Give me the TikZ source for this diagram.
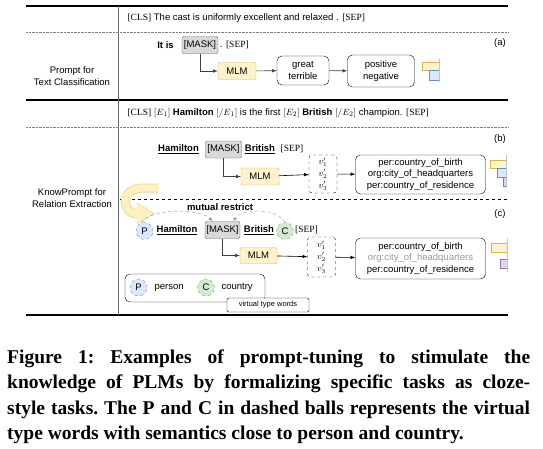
\documentclass[tikz,border=0pt]{standalone}
\usepackage{fontspec}
\setmainfont{Liberation Sans}
\newfontfamily\serifface{Liberation Serif}
\newfontfamily\captionface{Liberation Serif}
\usepackage{tikz}
\usetikzlibrary{calc}

\definecolor{mlmfill}{HTML}{FFF2CC}
\definecolor{mlmline}{HTML}{D6B656}
\definecolor{bluefill}{HTML}{DAE8FC}
\definecolor{blueline}{HTML}{6C8EBF}
\definecolor{greenfill}{HTML}{D5E8D4}
\definecolor{greenline}{HTML}{82B366}
\definecolor{purplefill}{HTML}{E1D5E7}
\definecolor{purpleline}{HTML}{9673A6}
\definecolor{arrowfill}{HTML}{FFF0C2}
\definecolor{arrowline}{HTML}{E8D48E}

\tikzset{
  maskbox/.style={draw=black!60, fill=black!15, rounded corners=2pt, minimum width=36pt, minimum height=17pt, inner sep=1pt},
  mlmbox/.style={draw=mlmline, fill=mlmfill, rounded corners=2pt, minimum width=38pt, minimum height=17pt, inner sep=1pt},
  wordbox/.style={draw, rounded corners=5pt, align=center, inner sep=2pt},
  vbox/.style={draw, dashed, rounded corners=3pt, align=center, inner sep=1pt, font=\fontsize{9}{11.8}\selectfont},
  ball/.style={circle, dashed, minimum size=17pt, inner sep=0pt},
  link/.style={-latex, line width=0.6pt},
}

\begin{document}
\begin{tikzpicture}[x=1pt, y=-1pt, font=\fontsize{9.5}{11.5}\selectfont]
    \useasboundingbox (0,0) rectangle (543,448);

    % table rules
    \draw[line width=1.1pt] (26,6) -- (508,6);
    \draw[line width=1.1pt] (26,100) -- (508,100);
    \draw[line width=1.1pt] (26,315) -- (508,315);
    \draw[line width=0.9pt, black!60] (118,6) -- (118,315);
    \draw[densely dotted, black!50] (26,32) -- (508,32);
    \draw[densely dotted, black!50] (26,127) -- (508,127);
    \draw[dashed] (120,199) -- (508,199);

    \node[align=center] (task1) at (72,76) {Prompt for\\Text Classification};
    \node[align=center] (task2) at (72,198) {KnowPrompt for\\Relation Extraction};

    % (a) text classification
    \node[anchor=west] (sent1) at (124,18) {{\serifface[CLS]} The cast is uniformly excellent and relaxed . {\serifface[SEP]}};
    \node (taga) at (500,43) {(a)};
    \node (itis) at (165.5,45) {\textbf{It is}};
    \node[maskbox] (mask1) at (200,45) {[MASK]};
    \node[anchor=west, inner sep=1.5pt] (sep1) at (mask1.east) {. {\serifface[SEP]}};
    \node[mlmbox] (mlm1) at (237,71) {MLM};
    \node[wordbox, minimum width=52pt, minimum height=29pt] (word1) at (303,70.5) {great\\terrible};
    \node[wordbox, minimum width=67pt, minimum height=32pt] (lab1) at (381,71) {positive\\negative};
    \draw[link, black!75] (mask1.south) |- (mlm1.west);
    \draw[link, black!75] (mlm1) -- (word1);
    \draw[link, black!75] (word1) -- (lab1);

    \filldraw[fill=mlmfill, draw=mlmline] (422,62) rectangle (439,70);
    \filldraw[fill=bluefill, draw=blueline] (429,70) rectangle (439,80);
    \draw[blueline!50, line width=0.8pt] (439,59) -- (439,82);

    % (b) relation extraction
    \node[anchor=west] (sent2) at (124,113) {{\serifface[CLS]} $[E_1]$ \textbf{Hamilton} $[/E_1]$ is the first $[E_2]$ \textbf{British} $[/E_2]$ champion. {\serifface[SEP]}};
    \node (tagb) at (500,139) {(b)};
    \node (ham2) at (178.5,149) {\underline{\textbf{Hamilton}}};
    \node[maskbox] (mask2) at (223.5,149.5) {[MASK]};
    \node (brit2) at (260,149) {\underline{\textbf{British}}};
    \node (sep2) at (292,149) {\serifface[SEP]};
    \node[mlmbox] (mlm2) at (260,176.5) {MLM};
    \node[vbox, minimum width=28pt, minimum height=38pt] (verb2) at (323,174) {$v'_1$\\$v'_2$\\$v'_3$};
    \node[wordbox, minimum width=130pt, minimum height=39pt] (rel2) at (420.5,174.5) {per:country\_of\_birth\\org:city\_of\_headquarters\\per:country\_of\_residence};
    \draw[link, black!75] (mask2.south) |- (mlm2.west);
    \draw[link] (mlm2) -- (verb2);
    \draw[link] (verb2) -- (rel2);

    \filldraw[fill=mlmfill, draw=mlmline] (490,160) rectangle (506.5,168);
    \filldraw[fill=bluefill, draw=blueline] (497,168) rectangle (506.5,177.5);
    \filldraw[fill=purplefill, draw=purpleline] (503,177.5) rectangle (506.5,186.5);
    \draw[blueline!50, line width=0.8pt] (506.5,155) -- (506.5,188);

    % (c) knowprompt
    \draw[line width=9pt, arrowline] (158,188) -- (143,188) .. controls (120,188) and (120,214) .. (139,214);
    \filldraw[fill=arrowfill, draw=arrowline] (137,203) -- (154,213.5) -- (137,224) -- cycle;
    \draw[line width=7.4pt, arrowfill] (158.6,188) -- (143,188) .. controls (120,188) and (120,214) .. (139,214);

    \node (tagc) at (500,214) {(c)};
    \node (restrict) at (220,207) {\textbf{mutual restrict}};
    \node[ball, fill=bluefill, draw=blueline] (p3) at (144.5,231) {P};
    \node (ham3) at (177,230) {\underline{\textbf{Hamilton}}};
    \node[maskbox, minimum width=35pt] (mask3) at (222.5,230) {[MASK]};
    \node (brit3) at (259,230) {\underline{\textbf{British}}};
    \node[ball, fill=greenfill, draw=greenline] (c3) at (285,231) {C};
    \node (sep3) at (306.5,230) {\serifface[SEP]};
    \draw[dashed, blueline, -latex] (p3.110) .. controls (150,208) and (200,208) .. ($(mask3.north)+(-10,0)$);
    \draw[dashed, greenline, -latex] (c3.north) .. controls (278,208) and (242,208) .. ($(mask3.north)+(11,0)$);
    \node[mlmbox, minimum width=37pt, minimum height=16pt] (mlm3) at (258.5,255.5) {MLM};
    \node[vbox, minimum width=28pt, minimum height=40pt] (verb3) at (321.5,257) {$v'_1$\\$v'_2$\\$v'_3$};
    \node[wordbox, minimum width=130pt, minimum height=41pt] (rel3) at (420.5,258.5) {per:country\_of\_birth\\{\color{black!40}org:city\_of\_headquarters}\\per:country\_of\_residence};
    \draw[link, black!75] (mask3.south) |- (mlm3.west);
    \draw[link] (mlm3) -- (verb3);
    \draw[link] (verb3) -- (rel3);

    \filldraw[fill=mlmfill, draw=mlmline] (491,243) rectangle (507.5,252);
    \filldraw[fill=purplefill, draw=purpleline] (500,259) rectangle (507.5,268);
    \draw[blueline!50, line width=0.8pt] (507.5,238) -- (507.5,272);

    % legend
    \node[draw, rounded corners=5pt, minimum width=140pt, minimum height=28pt] (legend) at (195,288) {};
    \node[ball, fill=bluefill, draw=blueline] (pl) at (138.5,287.5) {P};
    \node[anchor=west] (person) at (151,287.5) {person};
    \node[ball, fill=greenfill, draw=greenline] (cl) at (206,287.5) {C};
    \node[anchor=west] (country) at (218,287.5) {country};
    \node[draw, fill=white, rounded corners=2pt, font=\fontsize{7.5}{9}\selectfont, minimum width=82pt, minimum height=14pt, inner sep=1pt] (vtw) at (268,305) {virtual type words};

    % caption
    \begin{scope}[font=\captionface\bfseries\fontsize{19.5}{24}\selectfont\frenchspacing]
      \node[anchor=base west, inner sep=0pt] (cap1) at (7,363) {\makebox[523pt][s]{Figure 1: Examples of prompt-tuning to stimulate the}};
      \node[anchor=base west, inner sep=0pt] (cap2) at (7,388.5) {\makebox[523pt][s]{knowledge of PLMs by formalizing specific tasks as cloze-}};
      \node[anchor=base west, inner sep=0pt] (cap3) at (7,414) {\makebox[523pt][s]{style tasks. The P and C in dashed balls represents the virtual}};
      \node[anchor=base west, inner sep=0pt] (cap4) at (7,439.5) {type words with semantics close to person and country.};
    \end{scope}
\end{tikzpicture}
\end{document}
